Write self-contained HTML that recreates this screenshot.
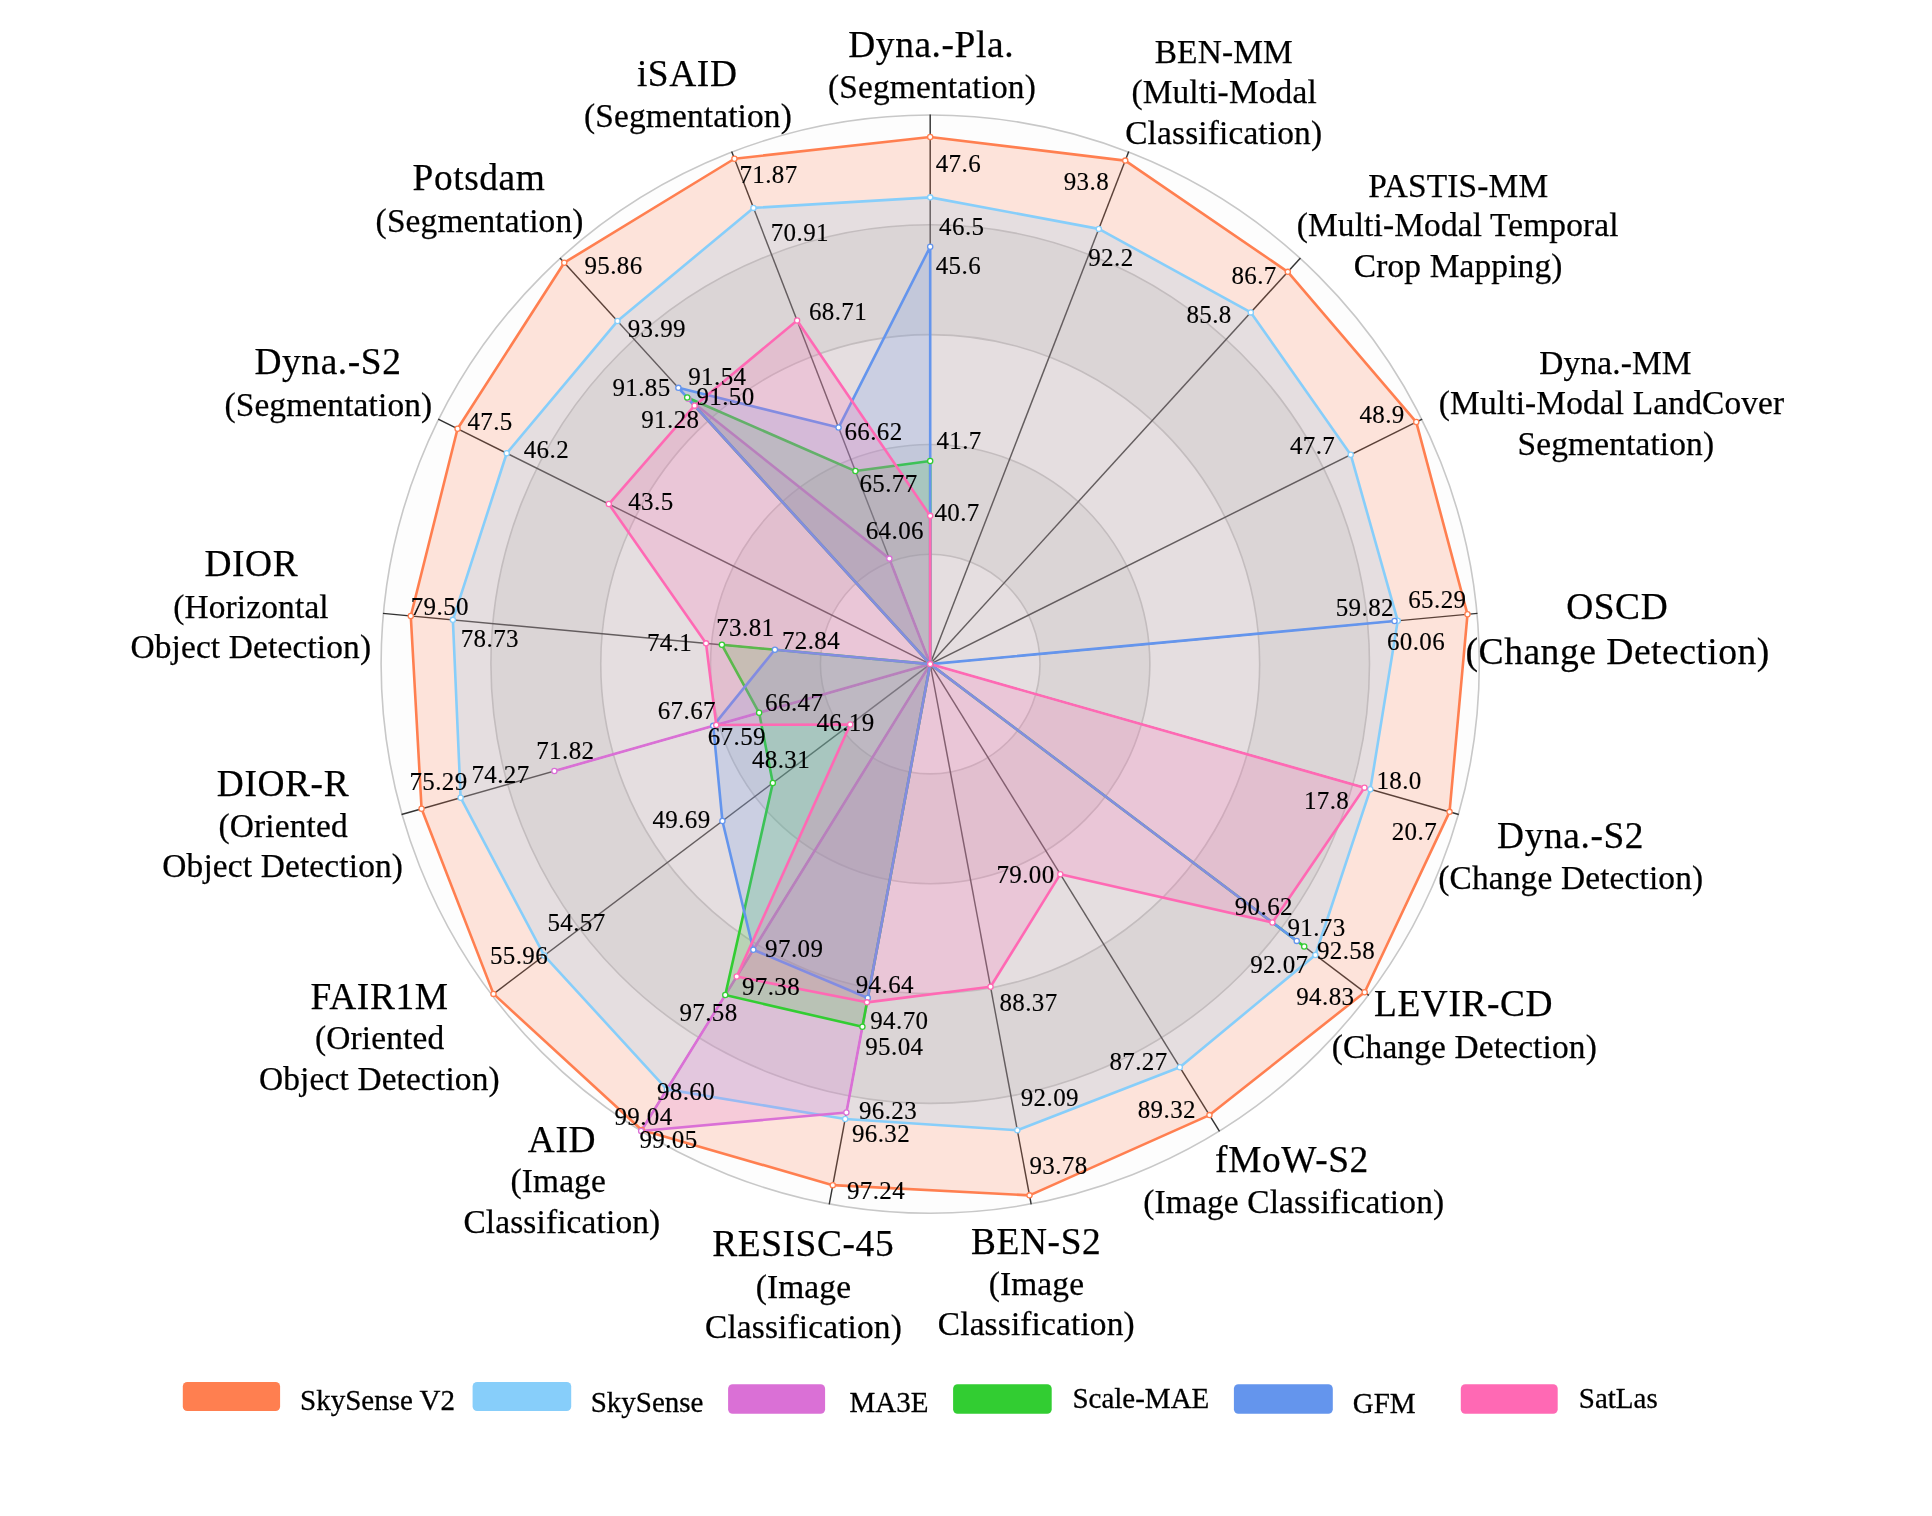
<!DOCTYPE html>
<html lang="en"><head><meta charset="utf-8"><title>Radar chart</title>
<style>
html,body{margin:0;padding:0;background:#fff;}
body{width:1932px;height:1516px;overflow:hidden;}
svg{display:block;font-family:"Liberation Serif",serif;}
.t{font-size:37.4px;letter-spacing:0.6px;fill:#000;text-anchor:middle;stroke:#000;stroke-width:0.25px;}
.s{font-size:33.4px;letter-spacing:0.15px;fill:#000;text-anchor:middle;stroke:#000;stroke-width:0.25px;}
.v{font-size:25px;letter-spacing:0.4px;fill:#000;stroke:#000;stroke-width:0.15px;}
.l{font-size:29px;fill:#000;stroke:#000;stroke-width:0.3px;}
</style></head><body>
<svg width="1932" height="1516" viewBox="0 0 1932 1516" style="will-change:transform">
<defs><filter id="ga" x="0" y="0" width="1932" height="1516" filterUnits="userSpaceOnUse"><feOffset dx="0" dy="0"/></filter></defs>
<rect width="1932" height="1516" fill="#fff"/>
<g>
<circle cx="930.20" cy="664.10" r="109.82" fill="rgba(250,250,250,0.3)"/>
<path d="M1149.84 664.10 A219.64 219.64 0 1 0 710.56 664.10 A219.64 219.64 0 1 0 1149.84 664.10 Z M1040.02 664.10 A109.82 109.82 0 1 1 820.38 664.10 A109.82 109.82 0 1 1 1040.02 664.10 Z" fill="rgba(200,200,200,0.3)" fill-rule="evenodd"/>
<path d="M1259.66 664.10 A329.46 329.46 0 1 0 600.74 664.10 A329.46 329.46 0 1 0 1259.66 664.10 Z M1149.84 664.10 A219.64 219.64 0 1 1 710.56 664.10 A219.64 219.64 0 1 1 1149.84 664.10 Z" fill="rgba(250,250,250,0.3)" fill-rule="evenodd"/>
<path d="M1369.48 664.10 A439.28 439.28 0 1 0 490.92 664.10 A439.28 439.28 0 1 0 1369.48 664.10 Z M1259.66 664.10 A329.46 329.46 0 1 1 600.74 664.10 A329.46 329.46 0 1 1 1259.66 664.10 Z" fill="rgba(200,200,200,0.3)" fill-rule="evenodd"/>
<path d="M1479.30 664.10 A549.10 549.10 0 1 0 381.10 664.10 A549.10 549.10 0 1 0 1479.30 664.10 Z M1369.48 664.10 A439.28 439.28 0 1 1 490.92 664.10 A439.28 439.28 0 1 1 1369.48 664.10 Z" fill="rgba(250,250,250,0.3)" fill-rule="evenodd"/>
</g>
<g fill="none" stroke="#c8c8c8" stroke-width="1.6">
<circle cx="930.20" cy="664.10" r="109.82"/>
<circle cx="930.20" cy="664.10" r="219.64"/>
<circle cx="930.20" cy="664.10" r="329.46"/>
<circle cx="930.20" cy="664.10" r="439.28"/>
<circle cx="930.20" cy="664.10" r="549.10"/>
</g>
<g stroke="#333" stroke-width="1.45">
<line x1="930.20" y1="664.10" x2="930.20" y2="114.50"/>
<line x1="930.20" y1="664.10" x2="731.66" y2="151.61"/>
<line x1="930.20" y1="664.10" x2="559.94" y2="257.94"/>
<line x1="930.20" y1="664.10" x2="438.22" y2="419.12"/>
<line x1="930.20" y1="664.10" x2="382.94" y2="613.39"/>
<line x1="930.20" y1="664.10" x2="401.58" y2="814.51"/>
<line x1="930.20" y1="664.10" x2="491.61" y2="995.31"/>
<line x1="930.20" y1="664.10" x2="640.87" y2="1131.38"/>
<line x1="930.20" y1="664.10" x2="829.21" y2="1204.34"/>
<line x1="930.20" y1="664.10" x2="1031.19" y2="1204.34"/>
<line x1="930.20" y1="664.10" x2="1219.53" y2="1131.38"/>
<line x1="930.20" y1="664.10" x2="1368.79" y2="995.31"/>
<line x1="930.20" y1="664.10" x2="1458.82" y2="814.51"/>
<line x1="930.20" y1="664.10" x2="1477.46" y2="613.39"/>
<line x1="930.20" y1="664.10" x2="1422.18" y2="419.12"/>
<line x1="930.20" y1="664.10" x2="1300.46" y2="257.94"/>
<line x1="930.20" y1="664.10" x2="1128.74" y2="151.61"/>
</g>
<polygon points="930.20,136.96 734.42,158.74 564.26,262.68 457.57,428.76 410.78,615.97 421.58,808.81 493.47,993.90 641.71,1130.03 832.80,1185.14 1029.51,1195.37 1209.44,1115.08 1364.67,992.19 1449.54,811.86 1467.49,614.31 1416.27,422.06 1287.80,271.84 1125.25,160.61" fill="#ff7f50" fill-opacity="0.20" stroke="#ff7f50" stroke-width="2.6" stroke-linejoin="round"/>
<polygon points="930.20,197.37 753.46,207.89 617.47,321.05 506.72,453.23 452.88,619.87 460.62,797.71 544.23,955.57 666.89,1089.35 845.18,1118.93 1017.33,1130.21 1179.81,1067.23 1315.37,954.97 1370.32,789.32 1397.74,620.78 1350.73,454.70 1250.80,312.42 1098.80,228.88" fill="#87cefa" fill-opacity="0.20" stroke="#87cefa" stroke-width="2.6" stroke-linejoin="round"/>
<polygon points="930.20,664.10 889.34,558.62 688.33,398.78 930.20,664.10 930.20,664.10 554.38,771.03 930.20,664.10 641.14,1130.95 846.39,1112.45 930.20,664.10 930.20,664.10 930.20,664.10 930.20,664.10 930.20,664.10 930.20,664.10 930.20,664.10 930.20,664.10" fill="#da70d6" fill-opacity="0.20" stroke="#da70d6" stroke-width="2.6" stroke-linejoin="round"/>
<polygon points="930.20,460.93 855.42,471.07 687.19,397.53 930.20,664.10 721.89,644.80 759.13,712.77 772.82,782.95 725.28,995.06 862.40,1026.81 930.20,664.10 930.20,664.10 1304.20,946.53 930.20,664.10 930.20,664.10 930.20,664.10 930.20,664.10 930.20,664.10" fill="#32cd32" fill-opacity="0.20" stroke="#32cd32" stroke-width="2.6" stroke-linejoin="round"/>
<polygon points="930.20,246.78 838.56,427.55 678.37,387.85 930.20,664.10 774.92,649.71 713.20,725.84 722.42,821.00 753.33,949.76 867.78,998.03 930.20,664.10 930.20,664.10 1296.75,940.90 930.20,664.10 1394.54,621.07 930.20,664.10 930.20,664.10 930.20,664.10" fill="#6495ed" fill-opacity="0.20" stroke="#6495ed" stroke-width="2.6" stroke-linejoin="round"/>
<polygon points="930.20,515.84 797.10,320.53 694.59,405.64 608.81,504.07 706.03,643.33 716.27,724.97 850.23,724.49 736.73,976.57 866.97,1002.34 990.52,986.79 1060.28,874.18 1272.43,922.54 1364.45,787.65 930.20,664.10 930.20,664.10 930.20,664.10 930.20,664.10" fill="#ff69b4" fill-opacity="0.20" stroke="#ff69b4" stroke-width="2.6" stroke-linejoin="round"/>
<g fill="#fff" stroke="#ff7f50" stroke-width="1.3">
<circle cx="930.20" cy="136.96" r="2.6"/>
<circle cx="734.42" cy="158.74" r="2.6"/>
<circle cx="564.26" cy="262.68" r="2.6"/>
<circle cx="457.57" cy="428.76" r="2.6"/>
<circle cx="410.78" cy="615.97" r="2.6"/>
<circle cx="421.58" cy="808.81" r="2.6"/>
<circle cx="493.47" cy="993.90" r="2.6"/>
<circle cx="641.71" cy="1130.03" r="2.6"/>
<circle cx="832.80" cy="1185.14" r="2.6"/>
<circle cx="1029.51" cy="1195.37" r="2.6"/>
<circle cx="1209.44" cy="1115.08" r="2.6"/>
<circle cx="1364.67" cy="992.19" r="2.6"/>
<circle cx="1449.54" cy="811.86" r="2.6"/>
<circle cx="1467.49" cy="614.31" r="2.6"/>
<circle cx="1416.27" cy="422.06" r="2.6"/>
<circle cx="1287.80" cy="271.84" r="2.6"/>
<circle cx="1125.25" cy="160.61" r="2.6"/>
</g>
<g fill="#fff" stroke="#87cefa" stroke-width="1.3">
<circle cx="930.20" cy="197.37" r="2.6"/>
<circle cx="753.46" cy="207.89" r="2.6"/>
<circle cx="617.47" cy="321.05" r="2.6"/>
<circle cx="506.72" cy="453.23" r="2.6"/>
<circle cx="452.88" cy="619.87" r="2.6"/>
<circle cx="460.62" cy="797.71" r="2.6"/>
<circle cx="544.23" cy="955.57" r="2.6"/>
<circle cx="666.89" cy="1089.35" r="2.6"/>
<circle cx="845.18" cy="1118.93" r="2.6"/>
<circle cx="1017.33" cy="1130.21" r="2.6"/>
<circle cx="1179.81" cy="1067.23" r="2.6"/>
<circle cx="1315.37" cy="954.97" r="2.6"/>
<circle cx="1370.32" cy="789.32" r="2.6"/>
<circle cx="1397.74" cy="620.78" r="2.6"/>
<circle cx="1350.73" cy="454.70" r="2.6"/>
<circle cx="1250.80" cy="312.42" r="2.6"/>
<circle cx="1098.80" cy="228.88" r="2.6"/>
</g>
<g fill="#fff" stroke="#da70d6" stroke-width="1.3">
<circle cx="930.20" cy="664.10" r="2.6"/>
<circle cx="889.34" cy="558.62" r="2.6"/>
<circle cx="688.33" cy="398.78" r="2.6"/>
<circle cx="554.38" cy="771.03" r="2.6"/>
<circle cx="641.14" cy="1130.95" r="2.6"/>
<circle cx="846.39" cy="1112.45" r="2.6"/>
</g>
<g fill="#fff" stroke="#32cd32" stroke-width="1.3">
<circle cx="930.20" cy="460.93" r="2.6"/>
<circle cx="855.42" cy="471.07" r="2.6"/>
<circle cx="687.19" cy="397.53" r="2.6"/>
<circle cx="930.20" cy="664.10" r="2.6"/>
<circle cx="721.89" cy="644.80" r="2.6"/>
<circle cx="759.13" cy="712.77" r="2.6"/>
<circle cx="772.82" cy="782.95" r="2.6"/>
<circle cx="725.28" cy="995.06" r="2.6"/>
<circle cx="862.40" cy="1026.81" r="2.6"/>
<circle cx="1304.20" cy="946.53" r="2.6"/>
</g>
<g fill="#fff" stroke="#6495ed" stroke-width="1.3">
<circle cx="930.20" cy="246.78" r="2.6"/>
<circle cx="838.56" cy="427.55" r="2.6"/>
<circle cx="678.37" cy="387.85" r="2.6"/>
<circle cx="930.20" cy="664.10" r="2.6"/>
<circle cx="774.92" cy="649.71" r="2.6"/>
<circle cx="713.20" cy="725.84" r="2.6"/>
<circle cx="722.42" cy="821.00" r="2.6"/>
<circle cx="753.33" cy="949.76" r="2.6"/>
<circle cx="867.78" cy="998.03" r="2.6"/>
<circle cx="1296.75" cy="940.90" r="2.6"/>
<circle cx="1394.54" cy="621.07" r="2.6"/>
</g>
<g fill="#fff" stroke="#ff69b4" stroke-width="1.3">
<circle cx="930.20" cy="515.84" r="2.6"/>
<circle cx="797.10" cy="320.53" r="2.6"/>
<circle cx="694.59" cy="405.64" r="2.6"/>
<circle cx="608.81" cy="504.07" r="2.6"/>
<circle cx="706.03" cy="643.33" r="2.6"/>
<circle cx="716.27" cy="724.97" r="2.6"/>
<circle cx="850.23" cy="724.49" r="2.6"/>
<circle cx="736.73" cy="976.57" r="2.6"/>
<circle cx="866.97" cy="1002.34" r="2.6"/>
<circle cx="990.52" cy="986.79" r="2.6"/>
<circle cx="1060.28" cy="874.18" r="2.6"/>
<circle cx="1272.43" cy="922.54" r="2.6"/>
<circle cx="1364.45" cy="787.65" r="2.6"/>
<circle cx="930.20" cy="664.10" r="2.6"/>
</g>
<g class="v" filter="url(#ga)">
<text x="935.7" y="171.7">47.6</text>
<text x="939.1" y="234.7">46.5</text>
<text x="935.7" y="273.5">45.6</text>
<text x="936.4" y="449.3">41.7</text>
<text x="934.4" y="521.3">40.7</text>
<text x="739.4" y="182.5">71.87</text>
<text x="770.7" y="240.8">70.91</text>
<text x="808.9" y="319.5">68.71</text>
<text x="844.4" y="440.3">66.62</text>
<text x="859.4" y="492.0">65.77</text>
<text x="865.7" y="538.8">64.06</text>
<text x="584.4" y="274.0">95.86</text>
<text x="627.7" y="337.2">93.99</text>
<text x="612.4" y="396.3">91.85</text>
<text x="688.2" y="385.0">91.54</text>
<text x="696.4" y="404.5">91.50</text>
<text x="641.2" y="427.5">91.28</text>
<text x="467.4" y="429.5">47.5</text>
<text x="523.7" y="458.3">46.2</text>
<text x="628.2" y="510.0">43.5</text>
<text x="410.7" y="615.0">79.50</text>
<text x="460.7" y="647.0">78.73</text>
<text x="646.9" y="650.5">74.1</text>
<text x="716.2" y="636.3">73.81</text>
<text x="781.9" y="648.8">72.84</text>
<text x="409.4" y="789.5">75.29</text>
<text x="471.4" y="782.5">74.27</text>
<text x="536.2" y="758.8">71.82</text>
<text x="657.7" y="718.8">67.67</text>
<text x="707.7" y="744.5">67.59</text>
<text x="765.1" y="710.8">66.47</text>
<text x="489.9" y="964.3">55.96</text>
<text x="547.4" y="931.3">54.57</text>
<text x="652.4" y="827.5">49.69</text>
<text x="751.9" y="768.0">48.31</text>
<text x="816.4" y="730.5">46.19</text>
<text x="614.4" y="1124.5">99.04</text>
<text x="639.4" y="1148.0">99.05</text>
<text x="656.9" y="1100.0">98.60</text>
<text x="679.4" y="1020.8">97.58</text>
<text x="741.9" y="995.0">97.38</text>
<text x="765.1" y="957.0">97.09</text>
<text x="846.9" y="1198.8">97.24</text>
<text x="851.9" y="1142.0">96.32</text>
<text x="858.9" y="1118.8">96.23</text>
<text x="865.2" y="1055.0">95.04</text>
<text x="870.2" y="1028.8">94.70</text>
<text x="855.7" y="992.5">94.64</text>
<text x="1029.4" y="1173.8">93.78</text>
<text x="1020.7" y="1106.3">92.09</text>
<text x="999.4" y="1011.3">88.37</text>
<text x="1137.7" y="1118.0">89.32</text>
<text x="1109.4" y="1070.0">87.27</text>
<text x="996.4" y="882.8">79.00</text>
<text x="1296.2" y="1005.0">94.83</text>
<text x="1316.9" y="958.8">92.58</text>
<text x="1250.2" y="973.0">92.07</text>
<text x="1287.4" y="935.8">91.73</text>
<text x="1234.7" y="915.0">90.62</text>
<text x="1391.7" y="840.0">20.7</text>
<text x="1376.4" y="788.8">18.0</text>
<text x="1303.9" y="808.8">17.8</text>
<text x="1408.2" y="608.0">65.29</text>
<text x="1386.9" y="650.0">60.06</text>
<text x="1335.7" y="615.8">59.82</text>
<text x="1359.4" y="422.5">48.9</text>
<text x="1289.9" y="453.8">47.7</text>
<text x="1231.4" y="283.8">86.7</text>
<text x="1186.4" y="322.5">85.8</text>
<text x="1063.7" y="189.5">93.8</text>
<text x="1088.2" y="266.3">92.2</text>
</g>
<g filter="url(#ga)">
<text class="t" x="931.2" y="56.9">Dyna.-Pla.</text>
<text class="s" x="932.0" y="97.8">(Segmentation)</text>
<text class="t" x="687.2" y="86.0">iSAID</text>
<text class="s" x="688.0" y="126.5">(Segmentation)</text>
<text class="t" x="479.0" y="189.9">Potsdam</text>
<text class="s" x="479.6" y="232.1">(Segmentation)</text>
<text class="t" x="328.0" y="373.9">Dyna.-S2</text>
<text class="s" x="328.4" y="415.7">(Segmentation)</text>
<text class="t" x="251.3" y="576.1">DIOR</text>
<text class="s" x="251.0" y="618.0">(Horizontal</text>
<text class="s" x="250.8" y="657.8">Object Detection)</text>
<text class="t" x="283.0" y="796.0">DIOR-R</text>
<text class="s" x="283.2" y="836.9">(Oriented</text>
<text class="s" x="282.7" y="876.7">Object Detection)</text>
<text class="t" x="379.6" y="1008.6">FAIR1M</text>
<text class="s" x="379.6" y="1049.4">(Oriented</text>
<text class="s" x="379.4" y="1089.7">Object Detection)</text>
<text class="t" x="562.0" y="1151.7">AID</text>
<text class="s" x="558.2" y="1192.4">(Image</text>
<text class="s" x="561.9" y="1232.9">Classification)</text>
<text class="t" x="803.2" y="1255.9">RESISC-45</text>
<text class="s" x="803.4" y="1297.7">(Image</text>
<text class="s" x="803.5" y="1337.9">Classification)</text>
<text class="t" x="1036.2" y="1253.7">BEN-S2</text>
<text class="s" x="1036.4" y="1295.3">(Image</text>
<text class="s" x="1036.3" y="1335.2">Classification)</text>
<text class="t" x="1292.0" y="1171.9">fMoW-S2</text>
<text class="s" x="1293.8" y="1212.8">(Image Classification)</text>
<text class="t" x="1463.6" y="1015.5">LEVIR-CD</text>
<text class="s" x="1464.4" y="1057.5">(Change Detection)</text>
<text class="t" x="1570.6" y="847.5">Dyna.-S2</text>
<text class="s" x="1570.8" y="889.4">(Change Detection)</text>
<text class="t" x="1617.2" y="619.4">OSCD</text>
<text class="s" style="font-size:37.6px;letter-spacing:0.5px" x="1617.7" y="664.1">(Change Detection)</text>
<text class="s" x="1615.5" y="373.5">Dyna.-MM</text>
<text class="s" x="1611.6" y="413.8">(Multi-Modal LandCover</text>
<text class="s" x="1615.9" y="454.9">Segmentation)</text>
<text class="s" x="1458.2" y="196.7">PASTIS-MM</text>
<text class="s" x="1457.7" y="235.5">(Multi-Modal Temporal</text>
<text class="s" x="1458.2" y="277.2">Crop Mapping)</text>
<text class="s" x="1223.8" y="62.8">BEN-MM</text>
<text class="s" x="1224.1" y="102.9">(Multi-Modal</text>
<text class="s" x="1223.7" y="143.7">Classification)</text>
</g>
<g filter="url(#ga)">
<rect x="182.8" y="1381.9" width="97.3" height="29.2" rx="4.5" ry="4.5" fill="#ff7f50"/>
<text class="l" x="300.0" y="1409.7">SkySense V2</text>
<rect x="472.6" y="1381.9" width="98.6" height="29.2" rx="4.5" ry="4.5" fill="#87cefa"/>
<text class="l" x="590.7" y="1411.8">SkySense</text>
<rect x="728.1" y="1384.2" width="97.0" height="29.6" rx="4.5" ry="4.5" fill="#da70d6"/>
<text class="l" x="849.5" y="1411.8">MA3E</text>
<rect x="953.1" y="1384.2" width="98.6" height="29.6" rx="4.5" ry="4.5" fill="#32cd32"/>
<text class="l" x="1072.4" y="1408.4">Scale-MAE</text>
<rect x="1233.9" y="1384.2" width="98.9" height="29.6" rx="4.5" ry="4.5" fill="#6495ed"/>
<text class="l" x="1352.7" y="1413.0">GFM</text>
<rect x="1460.8" y="1384.2" width="96.9" height="29.6" rx="4.5" ry="4.5" fill="#ff69b4"/>
<text class="l" x="1578.8" y="1408.4">SatLas</text>
</g>
</svg></body></html>
